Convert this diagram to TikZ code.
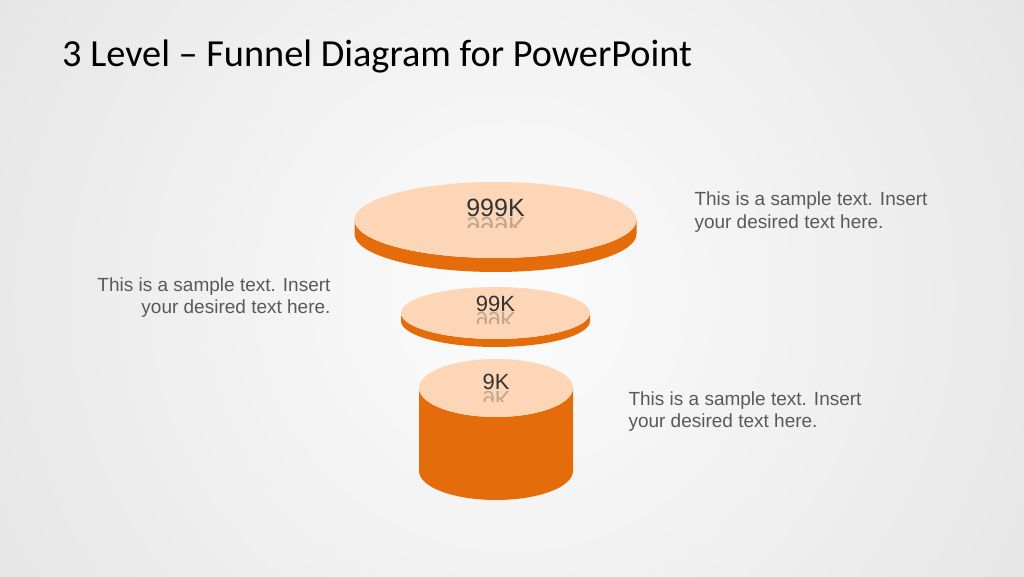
\documentclass[tikz,border=0pt]{standalone}
\usepackage{fontspec}
\setmainfont{Liberation Sans}
\newfontfamily\titlefont{Carlito}
\usetikzlibrary{calc}
\definecolor{fOrange}{HTML}{E46C0A}
\definecolor{fPeach}{HTML}{FCD6B6}
\definecolor{fText}{HTML}{595959}
\definecolor{fNum}{HTML}{333333}
\definecolor{bgIn}{HTML}{FCFCFC}
\definecolor{bgOut}{HTML}{E2E2E2}
\tikzset{
  side/.style={fill=fOrange},
  face/.style={fill=fPeach},
  numlabel/.style={text=fNum, inner sep=0pt, font=\fontsize{#1}{#1}\selectfont},
  numlabel/.default=22,
  desc/.style={text=fText, inner sep=0pt, font=\fontsize{19}{22.6}\selectfont},
}
\newcommand\mirrorlabel[4]{%
  \begin{scope}
    \clip (#1-40,#2) rectangle (#1+40,#2-11);
    \node[numlabel=#3, anchor=base, yscale=-1, opacity=.3] at (#1,#2-1) {#4};
  \end{scope}}
\begin{document}
\begin{tikzpicture}[x=1pt,y=1pt]
  % background
  \useasboundingbox (0,0) rectangle (1024,576);
  \begin{scope}
    \clip (0,0) rectangle (1024,576);
    \shade[inner color=bgIn, outer color=bgOut] (512,280) circle[radius=700pt];
  \end{scope}
  % title
  \node[anchor=base west, inner sep=0pt, font=\titlefont\fontsize{38.3}{44}\selectfont, text=black]
    (title) at (62,509) {3 Level – Funnel Diagram for PowerPoint};

  % top disk
  \fill[side] (354.5,356) -- (354.5,342)
     arc[start angle=180, end angle=360, x radius=141pt, y radius=38pt]
     -- (636.5,356)
     arc[start angle=0, end angle=-180, x radius=141pt, y radius=38pt] -- cycle;
  \fill[face] (495.5,356) ellipse[x radius=141pt, y radius=38pt];
  \node[numlabel=25] (n1) at (495.5,368) {999K};
  \mirrorlabel{495.5}{359}{25}{999K}

  % middle disk
  \fill[side] (401,263) -- (401,255)
     arc[start angle=180, end angle=360, x radius=94.5pt, y radius=26pt]
     -- (590,263)
     arc[start angle=0, end angle=-180, x radius=94.5pt, y radius=26pt] -- cycle;
  \fill[face] (495.5,263) ellipse[x radius=94.5pt, y radius=26pt];
  \node[numlabel=22] (n2) at (495.5,272) {99K};
  \mirrorlabel{495.5}{264}{22}{99K}

  % cylinder
  \fill[side] (419,188) -- (419,105)
     arc[start angle=180, end angle=360, x radius=77pt, y radius=29pt]
     -- (573,188)
     arc[start angle=0, end angle=-180, x radius=77pt, y radius=29pt] -- cycle;
  \fill[face] (496,188) ellipse[x radius=77pt, y radius=29pt];
  \node[numlabel=22] (n3) at (496,194) {9K};
  \mirrorlabel{496}{186}{22}{9K}

  % descriptions
  \node[desc, anchor=west, align=left] (t1) at (694.3,364)
    {This is a sample text. Insert\\your desired text here.};
  \node[desc, anchor=east, align=right] (t2) at (330.7,278.5)
    {This is a sample text. Insert\\your desired text here.};
  \node[desc, anchor=west, align=left] (t3) at (628.3,164.3)
    {This is a sample text. Insert\\your desired text here.};
\end{tikzpicture}
\end{document}
